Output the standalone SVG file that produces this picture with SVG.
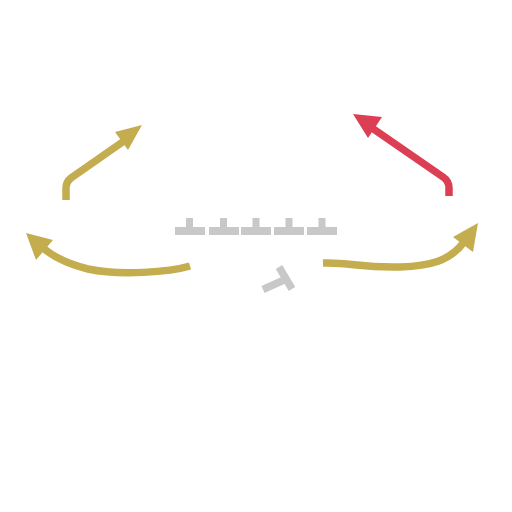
<svg xmlns="http://www.w3.org/2000/svg" width="512" height="512" viewBox="0 0 512 512">
<style>
.y{fill:none;stroke:#c4ad4f;stroke-width:7.5}
.r{fill:none;stroke:#dc3e54;stroke-width:7.5}
.yh{fill:#c4ad4f}
.rh{fill:#dc3e54}
.g{fill:#c8c8c8}
</style>
<rect width="512" height="512" fill="#fff"/>
<g id="connectors">
<path class="y" d="M66,200 L66,188 Q66,182 71,178 L124,141"/>
<polygon class="yh" points="142,125 115,132 128,150"/>
<path class="r" d="M449,196 L449,188 Q449,181 443,177 L372,128"/>
<polygon class="rh" points="353,114 382,117 368,138"/>
<path class="y" d="M190,266 C170,272 120,276 88,269 C68,264 52,256 42,247"/>
<polygon class="yh" points="26,233 36,260 53,240"/>
<path class="y" d="M323,263 C350,262 360,268 400,267 C430,266 450,261 464,242"/>
<polygon class="yh" points="478,223 453,237 473,252"/>
</g>
<g id="node1"><rect class="g" x="175" y="227" width="30" height="8"/><rect class="g" x="186" y="218" width="7" height="10"/></g>
<g id="node2"><rect class="g" x="209" y="227" width="30" height="8"/><rect class="g" x="220" y="218" width="7" height="10"/></g>
<g id="node3"><rect class="g" x="241" y="227" width="30" height="8"/><rect class="g" x="252.5" y="218" width="7" height="10"/></g>
<g id="node4"><rect class="g" x="274" y="227" width="30" height="8"/><rect class="g" x="285.5" y="218" width="7" height="10"/></g>
<g id="node5"><rect class="g" x="307" y="227" width="30" height="8"/><rect class="g" x="318.5" y="218" width="7" height="10"/></g>
<g id="node6"><path d="M279,267 L292,289 M263,289.5 L284,280" fill="none" stroke="#c8c8c8" stroke-width="7.5"/></g>
</svg>
